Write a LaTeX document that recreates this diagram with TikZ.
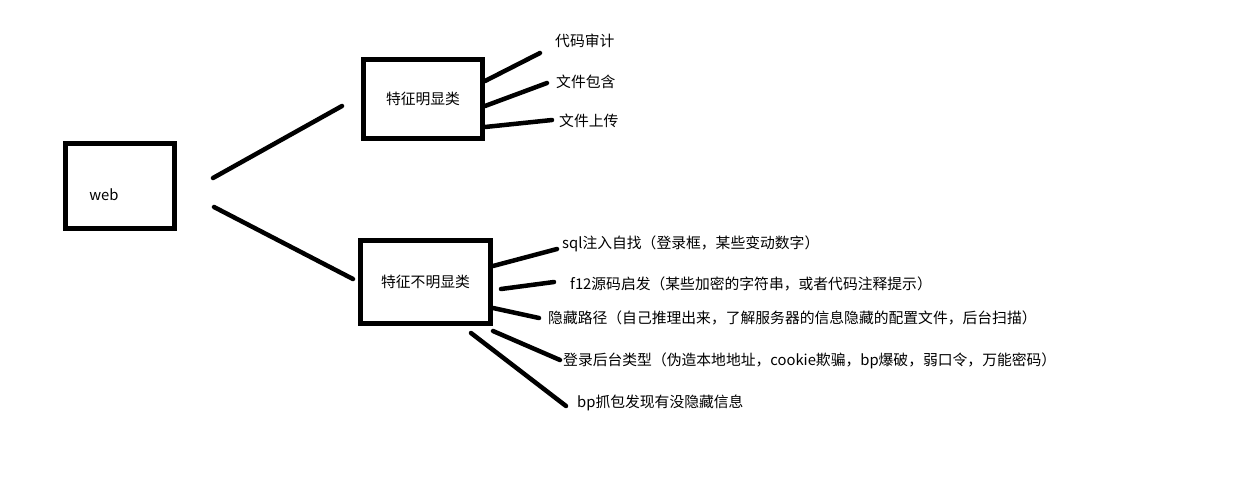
\documentclass[tikz,border=0pt]{standalone}
\usepackage{fontspec}
\setmainfont{Noto Sans CJK SC}
\begin{document}
\begin{tikzpicture}[x=1pt,y=-1pt,
  box/.style={draw=black,line width=4.5pt,rectangle,inner sep=0pt,fill=white},
  conn/.style={draw=black,line width=4.5pt,line cap=round},
  txt/.style={inner sep=0pt,font=\fontsize{14.8}{17}\selectfont,text=black},
  lbl/.style={txt,anchor=west}]
\useasboundingbox[fill=white] (0,0) rectangle (1248,499);
% boxes
\node[box,minimum width=109pt,minimum height=85pt] (web) at (120,186) {};
\node[txt] (webt) at (104,195) {web};
\node[box,minimum width=119pt,minimum height=79pt,txt] (b1) at (423,99) {特征明显类};
\node[box,minimum width=130pt,minimum height=83pt,txt] (b2) at (425.5,282) {特征不明显类};
% labels
\node[lbl] (l1) at (555,41) {代码审计};
\node[lbl] (l2) at (556,82) {文件包含};
\node[lbl] (l3) at (559,121) {文件上传};
\node[lbl] (m1) at (562,244) {sql注入自找（登录框，某些变动数字）};
\node[lbl] (m2) at (570,284) {f12源码启发（某些加密的字符串，或者代码注释提示）};
\node[lbl] (m3) at (548,318) {隐藏路径（自己推理出来，了解服务器的信息隐藏的配置文件，后台扫描）};
\node[lbl] (m4) at (563,361) {登录后台类型（伪造本地地址，cookie欺骗，bp爆破，弱口令，万能密码）};
\node[lbl] (m5) at (577,403) {bp抓包发现有没隐藏信息};
% connector ends
\coordinate (wa) at (213,178);
\coordinate (wb) at (214,207);
\coordinate (ba) at (342,106);
\coordinate (bb) at (353,279);
\coordinate (a1s) at (485,81);  \coordinate (a1e) at (540,53);
\coordinate (a2s) at (485,106); \coordinate (a2e) at (547,83);
\coordinate (a3s) at (485,127); \coordinate (a3e) at (552,120);
\coordinate (c1s) at (493,266); \coordinate (c1e) at (557,249);
\coordinate (c2s) at (501,289); \coordinate (c2e) at (554,282);
\coordinate (c3s) at (493,308); \coordinate (c3e) at (539,318);
\coordinate (c4s) at (493,331); \coordinate (c4e) at (560,360);
\coordinate (c5s) at (471,333); \coordinate (c5e) at (566,406);
% connectors
\draw[conn] (wa) -- (ba);
\draw[conn] (wb) -- (bb);
\draw[conn] (a1s) -- (a1e);
\draw[conn] (a2s) -- (a2e);
\draw[conn] (a3s) -- (a3e);
\draw[conn] (c1s) -- (c1e);
\draw[conn] (c2s) -- (c2e);
\draw[conn] (c3s) -- (c3e);
\draw[conn] (c4s) -- (c4e);
\draw[conn] (c5s) -- (c5e);
\end{tikzpicture}
\end{document}
